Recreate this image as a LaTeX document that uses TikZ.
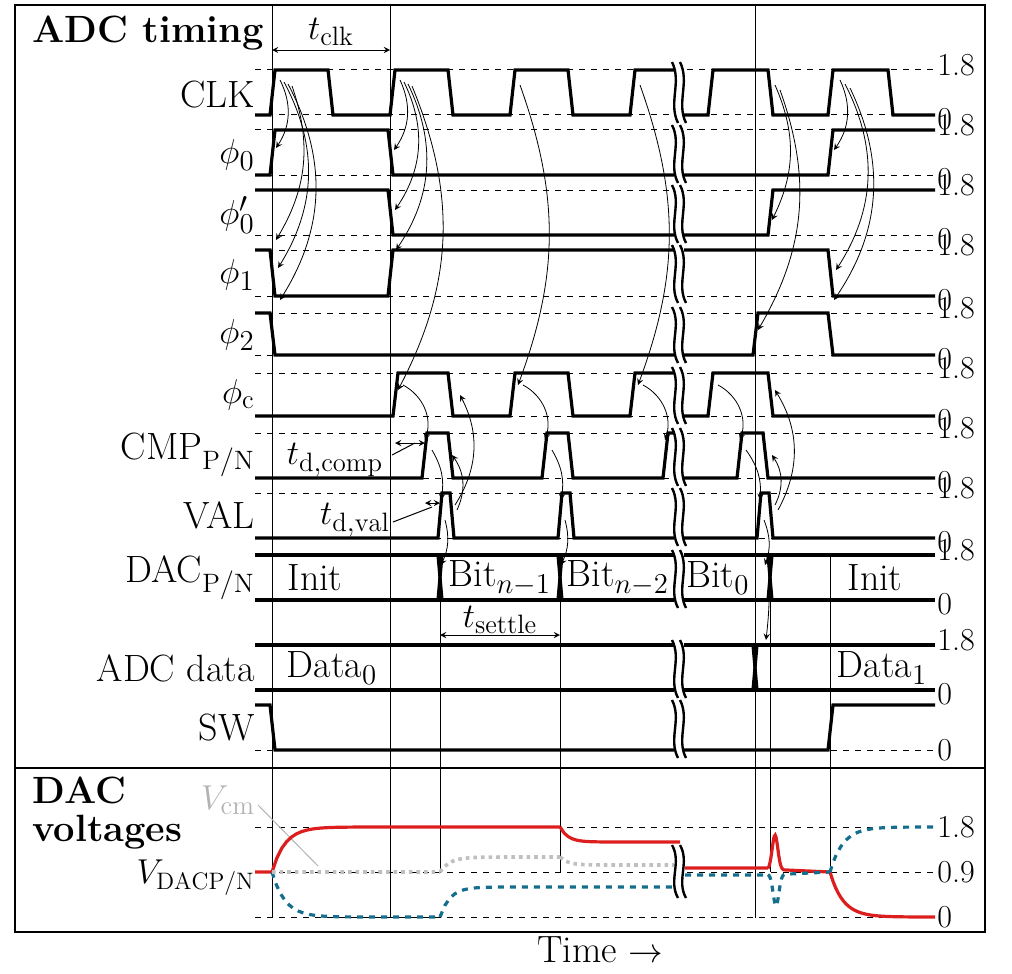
\documentclass[tikz,border=0pt]{standalone}
\usepackage{fontspec}
\begin{document}
\begin{tikzpicture}[x=0.5pt,y=-0.5pt,
  sig/.style={line width=1.6pt,line join=miter},
  lev/.style={dashed,line width=0.5pt},
  vl/.style={line width=0.5pt},
  arr/.style={-stealth,line width=0.4pt},
  dim/.style={stealth-stealth,line width=0.4pt},
  lab/.style={anchor=east,inner sep=0pt,font=\fontsize{19}{21}\selectfont},
  val/.style={anchor=west,inner sep=0pt,font=\fontsize{16}{18}\selectfont},
  txt/.style={inner sep=0pt,font=\fontsize{19}{21}\selectfont}]
\useasboundingbox (0,0) rectangle (1012,974);
\definecolor{dred}{RGB}{220,30,30}
\definecolor{dblue}{RGB}{20,110,140}
% frame
\draw[line width=1pt] (15,5) rectangle (985,932);
\draw[line width=1pt] (15,768) -- (985,768);
% vertical lines
\foreach \x in {272,390,755} \draw[vl] (\x,5) -- (\x,918);
\foreach \x in {440,560,770,830} \draw[vl] (\x,555) -- (\x,872);
% levels
\foreach \h/\l in {70/115,130/175,190/235,250/296,313/355,373/416,433/478,493/538,555/600,645/690}{
  \draw[lev] (255,\h) -- (935,\h); \draw[lev] (255,\l) -- (935,\l);
  \node[val] at (937,\h-5) {1.8}; \node[val] at (937,\l+4) {0};}
\draw[lev] (255,750) -- (935,750); \node[val] at (937,750) {0};
\foreach \y/\t in {827/1.8,872/0.9,917/0}{\draw[lev] (255,\y) -- (935,\y); \node[val] at (937,\y) {\t};}
% labels
\node[anchor=north west,inner sep=0pt,font=\fontsize{19}{21}\selectfont\bfseries] at (32,16) {ADC timing};
\node[anchor=north west,inner sep=0pt,align=left,font=\fontsize{19}{19}\selectfont\bfseries] at (32,776) {DAC\\voltages};
\node[lab] at (255,95) {CLK};
\node[lab] at (255,155) {$\phi_0$};
\node[lab] at (255,215) {$\phi_0'$};
\node[lab] at (255,275) {$\phi_1$};
\node[lab] at (255,335) {$\phi_2$};
\node[lab] at (255,395) {$\phi_{\mathrm{c}}$};
\node[lab] at (255,455) {CMP$_{\mathrm{P/N}}$};
\node[lab] at (255,515) {VAL};
\node[lab] at (255,578) {DAC$_{\mathrm{P/N}}$};
\node[lab] at (255,668) {ADC data};
\node[lab] at (255,728) {SW};
\node[lab,font=\fontsize{17}{19}\selectfont] at (255,878) {$V_{\mathrm{DACP/N}}$};
\node[txt,text=gray!60] (vcm) at (228,800) {$V_{\mathrm{cm}}$};
\draw[gray!60,line width=0.5pt] (258,805) -- (318,866);
\node[txt] at (600,950) {Time $\rightarrow$};
% dims
\draw[dim] (272,50) -- (390,50); \node[txt] at (331,32) {$t_{\mathrm{clk}}$};
\draw[dim] (395,443) -- (425,443); \node[txt] (tdc) at (335,460) {$t_{\mathrm{d,comp}}$};
\draw[vl] (392,455) -- (415,443);
\draw[dim] (425,503) -- (440,503); \node[txt] (tdv) at (355,520) {$t_{\mathrm{d,val}}$};
\draw[vl] (393,522) -- (432,507);
\draw[dim] (440,635) -- (560,635); \node[txt] at (500,620) {$t_{\mathrm{settle}}$};
% waveforms
\draw[sig] (255,115)--(270,115)--(275,70)--(328,70)--(333,115)--(390,115)--(395,70)--(448,70)--(453,115)--(510,115)--(515,70)--(568,70)--(573,115)--(630,115)--(635,70)--(675,70);
\draw[sig] (683,115)--(708,115)--(713,70)--(768,70)--(773,115)--(828,115)--(833,70)--(888,70)--(893,115)--(935,115);
\draw[sig] (255,175)--(270,175)--(275,130)--(388,130)--(393,175)--(828,175)--(833,130)--(935,130);
\draw[sig] (255,190)--(388,190)--(393,235)--(768,235)--(773,190)--(935,190);
\draw[sig] (255,250)--(270,250)--(275,296)--(388,296)--(393,250)--(828,250)--(833,296)--(935,296);
\draw[sig] (255,313)--(270,313)--(275,355)--(753,355)--(758,313)--(828,313)--(833,355)--(935,355);
\draw[sig] (255,416)--(393,416)--(398,373)--(448,373)--(453,416)--(510,416)--(515,373)--(568,373)--(573,416)--(630,416)--(635,373)--(675,373);
\draw[sig] (683,416)--(708,416)--(713,373)--(768,373)--(773,416)--(935,416);
\draw[sig] (255,478)--(422,478)--(427,433)--(448,433)--(453,478)--(542,478)--(547,433)--(568,433)--(573,478)--(663,478)--(668,433)--(675,433);
\draw[sig] (683,478)--(737,478)--(742,433)--(763,433)--(768,478)--(935,478);
\draw[sig] (255,538)--(438,538)--(442,493)--(450,493)--(454,538)--(558,538)--(562,493)--(570,493)--(574,538)--(675,538);
\draw[sig] (683,538)--(757,538)--(761,493)--(769,493)--(773,538)--(935,538);
\foreach \a/\b in {255/675,683/935}{\draw[sig] (\a,555)--(\b,555); \draw[sig] (\a,600)--(\b,600);}
\foreach \x in {440,560,770}{\draw[sig] (\x-2,600)--(\x+2,555); \draw[sig] (\x-2,555)--(\x+2,600);}
\node[txt] at (315,578) {Init};
\node[txt] at (500,578) {Bit$_{n-1}$};
\node[txt] at (618,578) {Bit$_{n-2}$};
\node[txt] at (718,578) {Bit$_0$};
\node[txt] at (875,578) {Init};
\foreach \a/\b in {255/675,683/935}{\draw[sig] (\a,645)--(\b,645); \draw[sig] (\a,690)--(\b,690);}
\draw[sig] (753,690)--(757,645); \draw[sig] (753,645)--(757,690);
\node[txt] at (332,668) {Data$_0$};
\node[txt] at (882,668) {Data$_1$};
\draw[sig] (255,705)--(270,705)--(275,750)--(828,750)--(833,705)--(935,705);
% DAC voltages
\draw[dred,line width=1.6pt] (255,872)--(272,872) plot[domain=272:560,samples=60] (\x,{872-45*(1-exp(-(\x-272)/13))}) plot[domain=560:680,samples=30] (\x,{827+15*(1-exp(-(\x-560)/8))});
\draw[dred,line width=1.6pt] (685,868)--(768,868) plot[domain=768:785,samples=20] (\x,{870-35*exp(-((\x-775)/4)^2)}) -- (830,872) plot[domain=830:935,samples=40] (\x,{872+45*(1-exp(-(\x-830)/13))});
\draw[dblue,dashed,line width=1.6pt] plot[domain=272:440,samples=40] (\x,{872+45*(1-exp(-(\x-272)/13))}) plot[domain=440:680,samples=50] (\x,{917-30*(1-exp(-(\x-440)/10))});
\draw[dblue,dashed,line width=1.6pt] (685,875)--(768,875) plot[domain=768:785,samples=20] (\x,{874+32*exp(-((\x-776)/4)^2)}) -- (830,872) plot[domain=830:935,samples=40] (\x,{872-45*(1-exp(-(\x-830)/13))});
\draw[gray!50,dotted,line width=1.8pt] (272,872)--(440,872) plot[domain=440:560,samples=30] (\x,{872-15*(1-exp(-(\x-440)/10))}) plot[domain=560:680,samples=30] (\x,{857+8*(1-exp(-(\x-560)/8))});
% breaks
\foreach \t/\b in {62/123,125/183,185/243,245/303,307/363,367/424,428/486,488/546,550/608,640/698,700/758,845/898}{
  \fill[white] (674,\t) rectangle (684,\b);
  \foreach \dx in {0,8}
    \draw[line width=1.2pt] (672+\dx,\t) .. controls (682+\dx,{\t+(\b-\t)/3}) and (668+\dx,{\t+2*(\b-\t)/3}) .. (678+\dx,\b);}
% arrows
\draw[arr] (280,80) to[bend left=30] (276,148);
\draw[arr] (284,82) to[bend left=30] (278,268);
\draw[arr] (288,84) to[bend left=30] (280,300);
\draw[arr] (292,86) to[bend left=25] (276,240);
\draw[arr] (400,80) to[bend left=30] (394,150);
\draw[arr] (404,82) to[bend left=30] (395,210);
\draw[arr] (408,84) to[bend left=30] (396,250);
\draw[arr] (412,86) to[bend left=25] (398,390);
\draw[arr] (520,85) to[bend left=20] (518,385);
\draw[arr] (640,85) to[bend left=20] (638,385);
\draw[arr] (775,85) to[bend left=25] (772,220);
\draw[arr] (780,90) to[bend left=25] (758,330);
\draw[arr] (840,80) to[bend left=30] (834,150);
\draw[arr] (845,84) to[bend left=30] (836,270);
\draw[arr] (850,88) to[bend left=30] (834,300);
\draw[arr] (403,385) to[bend left=40] (425,440);
\draw[arr] (523,385) to[bend left=40] (545,440);
\draw[arr] (643,385) to[bend left=40] (665,440);
\draw[arr] (718,385) to[bend left=40] (740,440);
\draw[arr] (432,450) to[bend left=20] (441,500);
\draw[arr] (552,450) to[bend left=20] (561,500);
\draw[arr] (746,450) to[bend left=20] (760,500);
\draw[arr] (455,505) to[bend right=30] (460,395);
\draw[arr] (457,510) to[bend right=30] (452,455);
\draw[arr] (775,505) to[bend right=30] (772,455);
\draw[arr] (778,510) to[bend right=30] (775,390);
\draw[arr] (445,520) to[bend left=20] (441,565);
\draw[arr] (565,520) to[bend left=20] (561,565);
\draw[arr] (764,520) to[bend left=20] (765,565);
\draw[arr] (768,560) to[bend left=5] (766,640);
\end{tikzpicture}
\end{document}
